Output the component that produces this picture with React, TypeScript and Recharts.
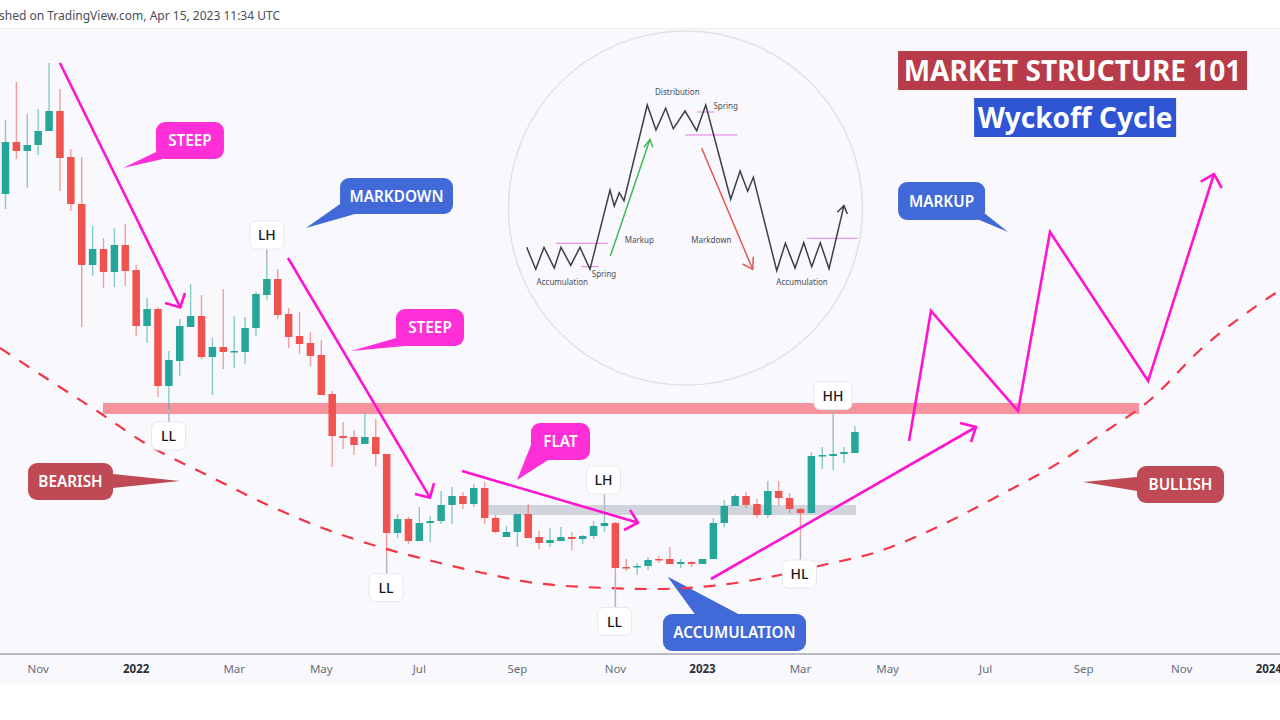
import { Area, Bar, ComposedChart, Line, ReferenceArea, ReferenceDot, ReferenceLine, XAxis, YAxis } from "recharts";

// x is the week number of the candle, y is the height above the time axis (price scale is hidden)
const open = [460, 512, 503, 509, 523, 543, 497, 450, 389, 405, 382, 409, 384, 328, 345, 268, 293, 327, 338, 297, 307, 302, 302, 326, 359, 375, 340, 318, 311, 299, 260, 218, 217, 210, 217, 200, 121, 135, 113, 131, 133, 149, 158, 150, 166, 136, 117, 122, 140, 117, 111, 113, 117, 115, 118, 128, 131, 87, 87, 88, 95, 95, 90, 92, 90, 95, 131, 148, 158, 150, 139, 163, 156, 145, 141, 198, 198, 200, 201];
const close = [512, 503, 509, 523, 543, 496, 450, 389, 405, 382, 409, 383, 328, 345, 268, 294, 328, 338, 297, 307, 302, 303, 326, 360, 375, 339, 317, 310, 298, 259, 218, 216, 209, 217, 200, 121, 135, 113, 131, 133, 149, 158, 150, 166, 136, 122, 122, 140, 116, 111, 114, 117, 115, 118, 128, 131, 86, 86, 88, 94, 94, 90, 92, 90, 95, 131, 148, 158, 149, 139, 163, 156, 145, 141, 198, 199, 200, 202, 222];
const high = [534, 572, 540, 545, 591, 565, 505, 497, 428, 416, 426, 430, 389, 356, 347, 303, 335, 370, 359, 316, 365, 338, 337, 362, 392, 385, 346, 342, 322, 314, 263, 232, 224, 241, 235, 200, 140, 137, 147, 138, 163, 167, 162, 170, 172, 139, 128, 140, 150, 123, 126, 127, 122, 119, 133, 137, 132, 95, 91, 97, 98, 107, 95, 93, 95, 136, 154, 160, 162, 155, 173, 173, 161, 146, 202, 207, 211, 207, 228];
const low = [445, 495, 466, 499, 523, 463, 443, 327, 378, 366, 367, 368, 318, 311, 257, 245, 278, 327, 295, 259, 285, 286, 290, 318, 354, 335, 306, 300, 288, 259, 187, 205, 199, 210, 188, 99, 116, 110, 113, 112, 130, 130, 145, 147, 130, 121, 117, 107, 116, 105, 107, 113, 104, 110, 115, 122, 80, 83, 79, 84, 91, 90, 86, 87, 90, 95, 127, 148, 146, 136, 136, 149, 141, 118, 141, 185, 184, 191, 201];

const tickWeeks = [3, 12, 21, 29, 38, 47, 56, 64, 73, 81, 90, 99, 108, 116];
const tickLabels = ["Nov", "2022", "Mar", "May", "Jul", "Sep", "Nov", "2023", "Mar", "May", "Jul", "Sep", "Nov", "2024"];

const arcWeeks = [-0.5, 4.27, 8.68, 12.63, 19.05, 24.29, 29.61, 34.67, 39.17, 43.85, 47.98, 55.23, 59.46, 65.61, 71.12, 75.07, 80.03, 83.98, 91.32, 96.83, 100.5, 105.09, 109.69, 117.03];
const arcLevels = [306, 272, 241, 212, 176, 148, 124, 106, 93, 81, 72, 66, 65, 69, 79, 89, 102, 119, 159, 192, 219, 254, 304, 364];

type Pt = [number, number];

// magenta trend lines drawn over the price
const trendPaths: Pt[][] = [
  [[5, 591], [16.05, 346.5]],
  [[14.65, 351], [16.05, 346.5], [16.48, 361]],
  [[25.94, 396], [38.98, 156.3]],
  [[37.6, 160], [38.98, 156.3], [39.35, 171]],
  [[41.92, 183], [58.08, 131.3]],
  [[57.35, 144], [58.08, 131.3], [56.8, 124]],
  [[64.78, 75], [89.12, 227]],
  [[87.65, 231], [89.12, 227], [88.66, 212]],
  [[82.97, 213], [84.98, 343], [92.98, 243], [95.91, 422], [104.92, 273], [110.97, 480]],
  [[109.75, 472.3], [110.97, 480], [111.68, 466]],
];

// small Wyckoff schematic in the circle
const cyclePath: Pt[] = [[47.86, 406.7], [48.69, 384.7], [49.45, 406.7], [50.39, 386], [51.01, 406.7], [51.9, 388.7], [52.75, 406.7], [53.67, 384.7], [55.51, 464], [55.9, 448], [56.36, 461.3], [56.79, 453.3], [58.93, 549], [59.73, 524], [60.62, 545.7], [61.32, 525.3], [62.4, 543], [63.47, 523.3], [64.3, 549], [66.59, 454.7], [67.45, 483], [68.15, 462.7], [68.67, 476.7], [70.82, 383.3], [71.61, 410.7], [72.5, 386], [73.3, 411.3], [74.03, 387.3], [74.82, 411.3], [75.62, 385.3], [76.99, 448.3]];
const cycleHead: Pt[] = [[76.38, 441.7], [76.99, 448.3], [77.3, 440]];
const greenArrow: Pt[][] = [[[55.54, 398], [59.18, 514.7]], [[58.63, 506.7], [59.18, 514.7], [59.43, 506.7]]];
const redArrow: Pt[][] = [[[63.93, 505.7], [68.61, 384.7]], [[67.69, 390], [68.61, 384.7], [68.67, 397.3]]];
const cycleLevels: [number, number, number][] = [[50.52, 55.3, 410.7], [52.85, 54.5, 387.3], [63.5, 65.09, 542], [62.42, 67.2, 519], [73.57, 78.25, 415.7]];
const cycleTexts: [string, number, number][] = [["Accumulation", 51.13, 372.3], ["Spring", 54.96, 380], ["Markup", 58.2, 414], ["Markdown", 64.81, 414], ["Distribution", 61.69, 562], ["Spring", 66.13, 548], ["Accumulation", 73.14, 372.3]];

const callouts: { text: string; x: Pt; y: Pt; tail: Pt[]; fill: string }[] = [
  { text: "STEEP", x: [13.82, 20.06], y: [532, 495], tail: [[13.82, 502], [10.79, 486], [14.46, 495]], fill: "#ff2fd7" },
  { text: "MARKDOWN", x: [30.72, 41.09], y: [476, 440], tail: [[30.72, 450], [27.59, 426], [32.09, 440]], fill: "#4169d8" },
  { text: "STEEP", x: [35.86, 42.1], y: [345, 308], tail: [[35.86, 316], [31.73, 303], [36.69, 308]], fill: "#ff2fd7" },
  { text: "FLAT", x: [48.25, 53.67], y: [231, 194], tail: [[48.25, 209], [46.97, 174], [49.82, 194]], fill: "#ff2fd7" },
  { text: "BEARISH", x: [2.07, 9.87], y: [191, 154], tail: [[9.87, 180], [16.02, 173], [9.87, 166]], fill: "#bf4a55" },
  { text: "BULLISH", x: [103.9, 111.89], y: [188, 151], tail: [[103.9, 177], [98.94, 172], [103.9, 163]], fill: "#bf4a55" },
  { text: "MARKUP", x: [81.96, 89.95], y: [472, 434], tail: [[89.76, 442], [92.06, 422], [89.21, 435]], fill: "#4169d8" },
  { text: "ACCUMULATION", x: [60.37, 73.51], y: [40, 3], tail: [[63.31, 40], [60.83, 77], [67.26, 40]], fill: "#4169d8" },
];

const swings: { text: string; wk: number; lv: number; week: number; wick: Pt }[] = [
  { text: "LH", wk: 24, lv: 419, week: 24, wick: [406, 392] },
  { text: "LL", wk: 14.97, lv: 218, week: 15, wick: [245, 232] },
  { text: "LL", wk: 34.94, lv: 66.5, week: 35, wick: [99, 80] },
  { text: "LH", wk: 54.91, lv: 174, week: 55, wick: [160, 137] },
  { text: "LL", wk: 55.93, lv: 32.5, week: 56, wick: [80, 47] },
  { text: "HL", wk: 72.91, lv: 80, week: 73, wick: [118, 94] },
  { text: "HH", wk: 75.98, lv: 258.5, week: 76, wick: [245, 211] },
];

const rows = high.map((h, i) => ({ wk: i, open: open[i], close: close[i], high: h, low: low[i] }));
const toRows = (path: Pt[]) => path.map(([wk, lv]) => ({ wk, lv }));
const arcRows = arcWeeks.map((wk, i) => ({ wk, lv: arcLevels[i] }));
const redZone = [{ wk: 8.95, zone: [240, 251] }, { wk: 104.09, zone: [240, 251] }];
const greyZone = [{ wk: 44.31, zone: [139, 149] }, { wk: 78.1, zone: [139, 149] }];
// tail of the ACCUMULATION callout has to sit over the dashed arc
const accumulationTail = [{ wk: 60.83, zone: [77, 77] }, { wk: 63.31, zone: [40, 62.7] }, { wk: 67.26, zone: [40, 40] }];

const UP = "#26a69a";
const DOWN = "#ef5350";
const PINK = "#ff14d2";
const FONT = "'Noto Sans', sans-serif";
const BODY = 7.5;

function Candle(props: any) {
  const { x, y, width, height, payload } = props;
  const perLevel = height / (payload.high - payload.low);
  const top = y + (payload.high - Math.max(payload.open, payload.close)) * perLevel;
  const bodyH = Math.max(Math.abs(payload.open - payload.close) * perLevel, 1.5);
  const color = payload.close >= payload.open ? UP : DOWN;
  const mid = x + width / 2;
  return (
    <g>
      <line x1={mid} x2={mid} y1={y} y2={y + height} stroke={color} strokeWidth={1.4} strokeOpacity={0.55} />
      <rect x={mid - BODY / 2} y={top} width={BODY} height={bodyH} fill={color} />
    </g>
  );
}

function AxisTick({ x, y, payload }: any) {
  const label = tickLabels[tickWeeks.indexOf(payload.value)];
  const isYear = label.length === 4;
  return (
    <text x={x} y={y} dy={11} textAnchor="middle" fontFamily={FONT} fontSize={11.5} fontWeight={isYear ? 700 : 400} fill={isYear ? "#2a2e39" : "#6a6d78"}>
      {label}
    </text>
  );
}

function bubble(o: { text: string; x: Pt; y: Pt; tail?: Pt[]; fill: string; color: string; size: number; radius: number; weight: number }) {
  return (p: any) => {
    const toX = (wk: number) => p.x + ((wk - o.x[0]) / (o.x[1] - o.x[0])) * p.width;
    const toY = (lv: number) => p.y + ((o.y[0] - lv) / (o.y[0] - o.y[1])) * p.height;
    return (
      <g>
        {o.tail && <polygon points={o.tail.map(([a, b]) => `${toX(a)},${toY(b)}`).join(" ")} fill={o.fill} />}
        <rect x={p.x} y={p.y} width={p.width} height={p.height} rx={o.radius} fill={o.fill} />
        <text x={p.x + p.width / 2} y={p.y + p.height / 2} dy="0.36em" textAnchor="middle" fontFamily={FONT} fontSize={o.size} fontWeight={o.weight} fill={o.color}>
          {o.text}
        </text>
      </g>
    );
  };
}

function swingBadge(text: string) {
  const w = text === "HH" ? 38 : 34;
  const h = 28;
  return (p: any) => (
    <g>
      <rect x={p.cx - w / 2} y={p.cy - h / 2} width={w} height={h} rx={6} fill="#ffffff" stroke="#e6e8ee" />
      <text x={p.cx} y={p.cy} dy="0.36em" textAnchor="middle" fontFamily={FONT} fontSize={14} fontWeight={500} fill="#131722">
        {text}
      </text>
    </g>
  );
}

function path(key: string, pts: Pt[], stroke: string, width: number) {
  return <Line key={key} data={toRows(pts)} dataKey="lv" stroke={stroke} strokeWidth={width} dot={false} activeDot={false} isAnimationActive={false} legendType="none" />;
}

export default function App() {
  return (
    <div style={{ position: "absolute", left: 0, top: 0, width: 1280, height: 720, background: "#fff", overflow: "hidden" }}>
      <div style={{ position: "absolute", left: 0, top: 28, width: 1280, height: 656, background: "#f9f9fd", borderTop: "1px solid #eceef2", boxSizing: "border-box" }} />
      <div style={{ position: "absolute", right: 1000, top: 7, whiteSpace: "nowrap", fontFamily: FONT, fontSize: 12, color: "#4a4e59" }}>
        Published on TradingView.com, Apr 15, 2023 11:34 UTC
      </div>
      <div style={{ position: "absolute", left: 0, top: 0 }}>
        <ComposedChart width={1280} height={720} data={rows} margin={{ top: 28, right: 0, bottom: 36, left: 0 }}>
          <XAxis
            dataKey="wk"
            type="number"
            domain={[-0.505, 117.03]}
            ticks={tickWeeks}
            interval={0}
            tick={<AxisTick />}
            tickLine={false}
            axisLine={{ stroke: "#787b86" }}
            allowDataOverflow
          />
          <YAxis hide type="number" domain={[0, 626]} allowDataOverflow />

          <ReferenceDot x={62.44} y={446} r={177} fill="none" stroke="#e0e2e7" strokeWidth={1.5} ifOverflow="visible" />
          <Area data={redZone} dataKey="zone" fill="#f6939d" fillOpacity={1} stroke="none" dot={false} activeDot={false} isAnimationActive={false} legendType="none" />
          <Area data={greyZone} dataKey="zone" fill="#d1d4dc" fillOpacity={1} stroke="none" dot={false} activeDot={false} isAnimationActive={false} legendType="none" />

          {cycleLevels.map(([a, b, lv], i) => (
            <ReferenceLine key={i} segment={[{ x: a, y: lv }, { x: b, y: lv }]} stroke="#e879e8" strokeWidth={1} />
          ))}
          {path("cycle", cyclePath, "#3c3f46", 1.5)}
          {path("cycleHead", cycleHead, "#3c3f46", 1.5)}
          {greenArrow.map((p, i) => path(`g${i}`, p, "#3dbb55", 1.5))}
          {redArrow.map((p, i) => path(`r${i}`, p, "#e0584f", 1.5))}
          {cycleTexts.map(([t, wk, lv], i) => (
            <ReferenceDot
              key={i}
              x={wk}
              y={lv}
              r={0}
              shape={(p: any) => (
                <text x={p.cx} y={p.cy} dy="0.36em" textAnchor="middle" fontFamily={FONT} fontSize={8} fill="#4a4e59">
                  {t}
                </text>
              )}
            />
          ))}

          <Line data={arcRows} dataKey="lv" type="monotone" stroke="#f23645" strokeWidth={2.2} strokeDasharray="12 11" dot={false} activeDot={false} isAnimationActive={false} legendType="none" />
          <Area data={accumulationTail} dataKey="zone" fill="#4169d8" fillOpacity={1} stroke="none" dot={false} activeDot={false} isAnimationActive={false} legendType="none" />
          <Bar dataKey={(d: any) => [d.low, d.high]} barSize={8} shape={<Candle />} isAnimationActive={false} legendType="none" />

          {swings.map((s, i) => (
            <ReferenceLine key={i} segment={[{ x: s.week, y: s.wick[0] }, { x: s.week, y: s.wick[1] }]} stroke="#b2b5be" strokeWidth={1.5} />
          ))}
          {swings.map((s, i) => (
            <ReferenceDot key={i} x={s.wk} y={s.lv} r={0} shape={swingBadge(s.text)} />
          ))}

          {trendPaths.map((p, i) => path(`t${i}`, p, PINK, 2.6))}

          {callouts.map((c, i) => (
            <ReferenceArea key={i} x1={c.x[0]} x2={c.x[1]} y1={c.y[0]} y2={c.y[1]} shape={bubble({ ...c, color: "#ffffff", size: 15.3, radius: 9, weight: 600 })} />
          ))}
          <ReferenceArea x1={81.96} x2={114} y1={603} y2={564} shape={bubble({ text: "MARKET STRUCTURE 101", x: [81.96, 114], y: [603, 564], fill: "#b83b4a", color: "#ffffff", size: 28, radius: 0, weight: 700 })} />
          <ReferenceArea x1={88.94} x2={107.49} y1={556} y2={517} shape={bubble({ text: "Wyckoff Cycle", x: [88.94, 107.49], y: [556, 517], fill: "#2f55d4", color: "#ffffff", size: 28, radius: 0, weight: 700 })} />
        </ComposedChart>
      </div>
    </div>
  );
}
